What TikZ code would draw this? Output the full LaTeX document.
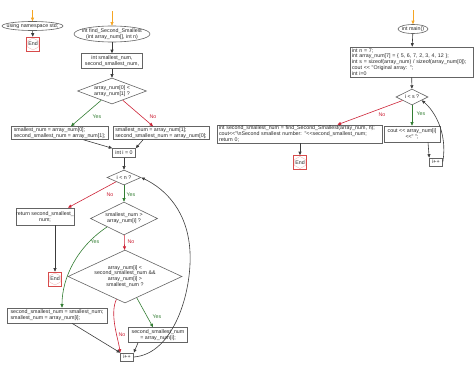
\documentclass[tikz,border=0pt]{standalone}
\usepackage{fontspec}
\newfontfamily\flowfont{Liberation Sans}
\usetikzlibrary{shapes.geometric,arrows.meta,calc}
\definecolor{linegray}{RGB}{60,60,60}
\definecolor{boxgray}{RGB}{100,100,100}
\definecolor{yesgreen}{RGB}{50,125,50}
\definecolor{nored}{RGB}{205,35,55}
\definecolor{startorange}{RGB}{245,165,35}
\definecolor{endred}{RGB}{215,75,75}
\tikzset{
  wh/.style 2 args={minimum width=#1pt,minimum height=#2pt},
  proc/.style={draw=boxgray,line width=0.6pt,rectangle,align=center,inner sep=0pt},
  procl/.style={proc,align=left,inner xsep=2pt},
  term/.style={draw=boxgray,line width=0.6pt,ellipse,align=center,inner sep=-30pt},
  decision/.style={draw=boxgray,line width=0.6pt,diamond,align=center,inner sep=-30pt},
  endbox/.style={draw=endred,line width=0.6pt,wh={13}{14},inner sep=0pt,
    path picture={\draw[endred!45,line width=0.3pt]
      ([yshift=-1pt]path picture bounding box.north)
      -- ([xshift=-1pt,yshift=-4pt]path picture bounding box.north east)
      -- ([xshift=-1pt,yshift=4pt]path picture bounding box.south east)
      -- ([yshift=1pt]path picture bounding box.south)
      -- ([xshift=1pt,yshift=4pt]path picture bounding box.south west)
      -- ([xshift=1pt,yshift=-4pt]path picture bounding box.north west) -- cycle;}},
  flow/.style={draw=linegray,line width=0.6pt,-{Triangle[length=3.5pt,width=3pt]}},
  yes/.style={flow,draw=yesgreen},
  no/.style={flow,draw=nored},
  start/.style={flow,draw=startorange},
  yeslbl/.style={text=yesgreen},
  nolbl/.style={text=nored}
}
\begin{document}
\begin{tikzpicture}[x=1pt,y=-1pt,font=\flowfont\fontsize{5.3}{5.9}\selectfont,
  every node/.append style={text=black!85}]
  \useasboundingbox (0,0) rectangle (474,367);
  \coordinate (o1) at (32.5,10);
  \node[term,wh={61}{9}] (ns) at (32.5,26) {using namespace std;};
  \node[endbox] (e1) at (33,44) {End};
  \coordinate (o2) at (112,11);
  \node[term,wh={76}{16}] (fn) at (112,34) {int find\_Second\_Smallest\\(int array\_num[], int n)};
  \node[proc,wh={61}{15}] (decl) at (112,61) {int smallest\_num,\\second\_smallest\_num,};
  \node[decision,wh={69}{26}] (d1) at (112,91) {array\_num[0] <\\array\_num[1] ?};
  \node[procl,wh={97}{13}] (a1) at (59.5,133) {smallest\_num = array\_num[0];\\second\_smallest\_num = array\_num[1];};
  \node[procl,wh={96}{13}] (a2) at (161,133) {smallest\_num = array\_num[1];\\second\_smallest\_num = array\_num[0];};
  \node[proc,wh={23}{9}] (init) at (124,153) {int i = 0};
  \node[decision,wh={34}{15}] (d2) at (124,177.5) {i < n ?};
  \node[proc,wh={46}{17}] (ret) at (45,216.5) {return second\_smallest\_\\num;};
  \node[decision,wh={67}{33}] (d3) at (124,218.5) {smallest\_num >\\array\_num[i] ?};
  \node[endbox] (e2) at (55,279) {End};
  \node[decision,wh={114}{53}] (d4) at (125,276.5) {array\_num[i] <\\second\_smallest\_num \&\&\\array\_num[i] >\\smallest\_num ?};
  \node[procl,wh={100}{15}] (a3) at (57,315.5) {second\_smallest\_num = smallest\_num;\\smallest\_num = array\_num[i];};
  \node[proc,wh={59}{15}] (a4) at (158,335) {second\_smallest\_num\\= array\_num[i];};
  \node[proc,wh={13}{8}] (inc1) at (127,357) {i++};
  \coordinate (loop1) at (190,252);
  \coordinate (o3) at (413,10);
  \node[term,wh={30}{9}] (mainfn) at (413,29) {int main()};
  \node[procl,wh={123}{30},text width=119pt] (body) at (411.5,62) {int n = 7;\\int array\_num[7] = \{ 5, 6, 7, 2, 3, 4, 12 \};\\int s = sizeof(array\_num) / sizeof(array\_num[0]);\\cout <\kern0pt< "Original array: ";\\int i=0};
  \node[decision,wh={32}{16}] (d5) at (412,97) {i < s ?};
  \node[procl,wh={165}{18},text width=161pt] (call) at (299.5,134) {int second\_smallest\_num = find\_Second\_Smallest(array\_num, n);\\cout<\kern0pt<"\textbackslash nSecond smallest number: "<\kern0pt<second\_smallest\_num;\\return 0;};
  \node[proc,wh={56}{16}] (cout) at (412,134) {cout <\kern0pt< array\_num[i]\\<\kern0pt<" ";};
  \node[endbox] (e3) at (300,162.5) {End};
  \node[proc,wh={13}{8}] (inc2) at (436,162) {i++};
  \node[yeslbl] (ly1) at (97,117) {Yes};
  \node[nolbl] (ln1) at (153,117) {No};
  \node[nolbl] (ln2) at (110,195) {No};
  \node[yeslbl] (ly2) at (131,195) {Yes};
  \node[yeslbl] (ly3) at (95,242) {Yes};
  \node[nolbl] (ln3) at (131,242) {No};
  \node[yeslbl] (ly4) at (157,317) {Yes};
  \node[nolbl] (ln4) at (122,335) {No};
  \node[nolbl] (ln5) at (382,115) {No};
  \node[yeslbl] (ly5) at (421,114) {Yes};
  \draw[start] (o1) -- (ns);
  \draw[flow] (ns) -- (e1);
  \draw[start] (o2) -- (fn);
  \draw[flow] (fn) -- (decl);
  \draw[flow] (decl) -- (d1);
  \draw[yes] (d1) -- ([xshift=11.5pt]a1.north);
  \draw[no] (d1) -- ([xshift=-8pt]a2.north);
  \draw[flow] ([xshift=24pt]a1.south) -- (init.north west);
  \draw[flow] ([xshift=-18pt]a2.south) -- (init.north east);
  \draw[flow] (init) -- (d2);
  \draw[no] (d2) -- ([xshift=23pt]ret.north);
  \draw[yes] (d2) -- (d3);
  \draw[flow] (e2.north |- ret.south) -- (e2);
  \draw[yes] (d3.south west) .. controls +(-30,20) and +(0,-30) .. ([xshift=5pt]a3.north);
  \draw[no] (d3) -- (d4);
  \draw[yes] (d4) -- ([xshift=-5pt]a4.north);
  \draw[no] ($(d4.south)!.15!(d4.west)$) .. controls +(-7,15) and +(-2,-14) .. (inc1.north west);
  \draw[flow] ([xshift=15pt]a3.south) -- (inc1.north west);
  \draw[flow] ([xshift=-20pt]a4.south) -- (inc1.north east);
  \draw[flow] (inc1.east) .. controls +(40,-3) and +(2,40) .. (loop1) .. controls +(-2,-40) and +(25,12) .. (d2.east);
  \draw[start] (o3) -- (mainfn);
  \draw[flow] (mainfn) -- (body);
  \draw[flow] (body) -- (d5);
  \draw[no] (d5) -- ([xshift=38pt]call.north);
  \draw[yes] (d5) -- (cout);
  \draw[flow] (e3.north |- call.south) -- (e3);
  \draw[flow] ([xshift=16pt]cout.south) -- (inc2.north west);
  \draw[flow] (inc2.east) .. controls +(5,-30) and +(12,10) .. ($(d5.east)!.4!(d5.south)$);
\end{tikzpicture}
\end{document}
